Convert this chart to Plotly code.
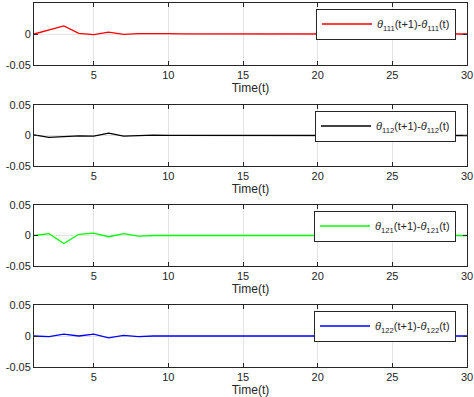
import plotly.graph_objects as go

t = list(range(1, 31))
d111 = [0.0, 0.007, 0.013, 0.001, -0.001, 0.003, -0.0005, 0.0005, 0.001, 0.0005,
        0.0003, 0.0002, 0.0001, 0, 0, 0, 0, 0, 0, 0, 0, 0, 0, 0, 0, 0, 0, 0, 0, 0]
d112 = [0.001, -0.003, -0.002, -0.0005, -0.001, 0.004, -0.001, 0.0, 0.0005, 0.0002,
        0.0001, 0, 0, 0, 0, 0, 0, 0, 0, 0, 0, 0, 0, 0, 0, 0, 0, 0, 0, 0]
d121 = [0.0, 0.003, -0.013, 0.002, 0.004, -0.002, 0.003, -0.001, 0.0, 0.0003,
        0.0001, 0, 0, 0, 0, 0, 0, 0, 0, 0, 0, 0, 0, 0, 0, 0, 0, 0, 0, 0]
d122 = [0.0, -0.001, 0.003, 0.0, 0.003, -0.003, 0.001, -0.001, 0.0, 0.0002,
        0.0, 0, 0, 0, 0, 0, 0, 0, 0, 0, 0, 0, 0, 0, 0, 0, 0, 0, 0, 0]

series = [d111, d112, d121, d122]
names = ["<i>θ</i><sub>111</sub>(t+1)-<i>θ</i><sub>111</sub>(t)",
         "<i>θ</i><sub>112</sub>(t+1)-<i>θ</i><sub>112</sub>(t)",
         "<i>θ</i><sub>121</sub>(t+1)-<i>θ</i><sub>121</sub>(t)",
         "<i>θ</i><sub>122</sub>(t+1)-<i>θ</i><sub>122</sub>(t)"]
colors = ["#ff0000", "#000000", "#00ff00", "#0000ff"]
xticks = [5, 10, 15, 20, 25, 30]
yticks = [-0.05, 0, 0.05]
yticklabels = ["-0.05", "0", "0.05"]

H = 397
tops = [3, 105, 205, 305]
bottoms = [65, 166, 266, 367]

fig = go.Figure()
layout = dict(
    width=474, height=397,
    margin=dict(l=34, r=7, t=0, b=0, autoexpand=False),
    paper_bgcolor="white", plot_bgcolor="white",
    font=dict(family="Liberation Sans, Arial, sans-serif", size=11, color="#262626"),
)
for i in range(4):
    sfx = "" if i == 0 else str(i + 1)
    leg = "legend" + sfx
    fig.add_trace(go.Scatter(x=t, y=series[i], mode="lines", name=names[i],
                             line=dict(color=colors[i], width=1.3),
                             xaxis="x" + sfx, yaxis="y" + sfx, legend=leg,
                             showlegend=True))
    dom = [1 - bottoms[i] / H, 1 - tops[i] / H]
    layout["xaxis" + sfx] = dict(
        domain=[0, 1], anchor="y" + sfx, range=[1, 30],
        tickvals=xticks, ticks="inside", ticklen=4, tickcolor="#262626",
        showline=True, linecolor="#262626", linewidth=1, mirror="ticks",
        showgrid=True, gridcolor="#e3e3e3", gridwidth=1, zeroline=False,
        title=dict(text="Time(t)", standoff=1, font=dict(size=12)),
        tickfont=dict(size=11), automargin=False,
    )
    layout["yaxis" + sfx] = dict(
        domain=dom, anchor="x" + sfx, range=[-0.05, 0.05],
        tickvals=yticks, ticktext=yticklabels, ticks="inside", ticklen=4,
        tickcolor="#262626",
        showline=True, linecolor="#262626", linewidth=1, mirror="ticks",
        showgrid=True, gridcolor="#e3e3e3", gridwidth=1, zeroline=False,
        tickfont=dict(size=11), automargin=False,
    )
    layout[leg] = dict(
        x=(456 - 34) / 433, xanchor="right",
        y=1 - (tops[i] + 5.5) / H, yanchor="top",
        bordercolor="#262626", borderwidth=1, bgcolor="white",
        font=dict(size=11, color="#262626"),
        tracegroupgap=0, itemwidth=50,
    )
fig.update_layout(**layout)
fig.write_html("out.html", config={"displayModeBar": False},
               post_script="document.body.style.margin='0';document.body.style.overflow='hidden';")
